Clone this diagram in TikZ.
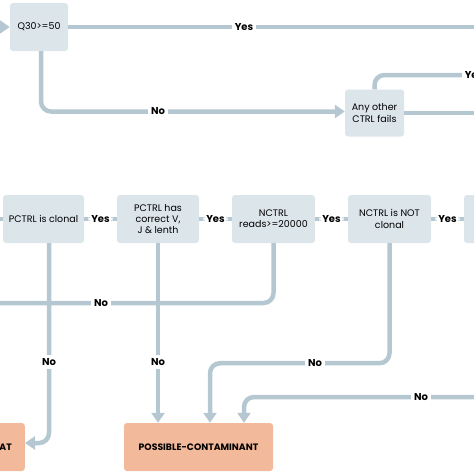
\documentclass[tikz,border=0pt]{standalone}
\usepackage{fontspec}
\setmainfont{Poppins}
\usetikzlibrary{arrows.meta}
\definecolor{ln}{HTML}{B5C8D1}
\definecolor{bx}{HTML}{DCE5EA}
\definecolor{og}{HTML}{F2B99B}
\begin{document}
\begin{tikzpicture}[x=1pt,y=-1pt,
  box/.style={fill=bx, rounded corners=3pt, minimum height=48pt, align=center, inner sep=2pt,
    font=\fontsize{9.5}{11.2}\selectfont},
  obox/.style={fill=og, rounded corners=3pt, minimum height=48pt, inner sep=2pt,
    font=\bfseries\fontsize{9.3}{11}\selectfont},
  lbl/.style={fill=white, font=\bfseries\fontsize{10}{12}\selectfont, inner sep=3pt},
  conn/.style={draw=ln, line width=4.5pt, rounded corners=10pt},
  arr/.style={conn, -{Triangle[width=13pt,length=10pt]}}]
\useasboundingbox (0,0) rectangle (474,474);
\clip (0,0) rectangle (474,474);
% boxes
\node[box, minimum width=58pt] (q30) at (39,27) {Q30>=50};
\node[box, minimum width=59pt, minimum height=47pt] (any) at (374.5,113) {Any other\\CTRL fails};
\node[box, minimum width=81pt] (pc) at (43.5,219) {PCTRL is clonal};
\node[box, minimum width=82pt] (pv) at (158,219) {PCTRL has\\correct V,\\J \& lenth};
\node[box, minimum width=83pt] (nr) at (273.5,219) {NCTRL\\reads>=20000};
\node[box, minimum width=83pt] (nn) at (389.5,219) {NCTRL is NOT\\clonal};
\node[box, minimum width=83pt] (nx) at (505.5,219) {};
\node[obox, anchor=east, text width=74pt, align=right, inner xsep=13pt] (rep) at (25,447) {AT};
\node[obox, minimum width=149pt] (pos) at (198.5,447) {POSSIBLE-CONTAMINANT};
% free ends
\coordinate (inA) at (-20,27);
\coordinate (inB) at (-20,219);
\coordinate (outA) at (490,27);
\coordinate (outB) at (490,113);
\coordinate (outC) at (490,75);
\coordinate (outD) at (-20,303);
\coordinate (inC) at (490,397);
% connectors
\draw[arr] (inA) -- (q30.west);
\draw[conn] (q30.east) -- (outA);
\node[lbl] at (244,27) {Yes};
\draw[arr] ([xshift=2pt]q30.south) |- ([yshift=1.5pt]any.west);
\node[lbl] at (158,111) {No};
\draw[conn] (any.east) -- (outB);
\draw[conn] (any.north) |- (outC);
\node[lbl] at (474,75) {Yes};
\draw[conn] (inB) -- (pc.west);
\draw[conn] (pc.east) -- node[lbl] {Yes} (pv.west);
\draw[conn] (pv.east) -- node[lbl] {Yes} (nr.west);
\draw[conn] (nr.east) -- node[lbl] {Yes} (nn.west);
\draw[conn] (nn.east) -- node[lbl] {Yes} (nx.west);
\draw[conn] (nr.south) |- (outD);
\node[lbl] at (101,303) {No};
\draw[arr] ([xshift=5.5pt]pc.south) |- ([yshift=4pt]rep.east);
\node[lbl] at (49,362) {No};
\draw[arr] (pv.south) -- (pv.south |- pos.north);
\node[lbl] at (158,362) {No};
\draw[arr] (nn.south) -- ++(0,120) -| ([xshift=11.5pt]pos.north);
\node[lbl] at (315,363) {No};
\draw[arr] (inC) -| ([xshift=45.5pt]pos.north);
\node[lbl] at (421,397) {No};
\end{tikzpicture}
\end{document}
